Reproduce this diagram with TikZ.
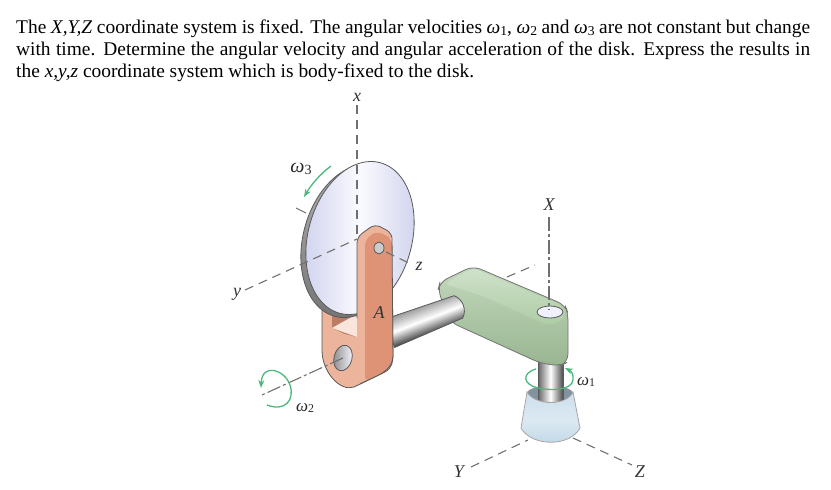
\documentclass[tikz,border=0pt]{standalone}
\usepackage{fontspec}
\setmainfont{Liberation Serif}
\usetikzlibrary{arrows, arrows.meta, shapes, positioning}

\newcommand{\omsub}[1]{\textit{ω}\raisebox{-0.25ex}{\scalebox{0.7}{#1}}}

\definecolor{armlight}{HTML}{EDB49C}
\definecolor{armdark}{HTML}{DE9377}
\definecolor{blockgreen}{HTML}{A9C9A0}
\definecolor{spin}{HTML}{4DB77E}
\definecolor{axisgray}{HTML}{707070}
\definecolor{basecol}{HTML}{B8D2E4}
\definecolor{diskcol}{HTML}{CDD1EC}

\tikzset{
  textline/.style={anchor=base west, inner sep=0pt, font=\fontsize{19.4}{21}\selectfont},
  figlabel/.style={inner sep=0pt, font=\fontsize{18}{20}\selectfont\itshape, text=black!80},
  greek/.style={inner sep=0pt, font=\fontsize{17}{19}\selectfont, text=black!85},
  axisline/.style={axisgray, line width=1.1, dashed, dash pattern=on 9pt off 6pt},
  outline/.style={draw=black!65, line width=0.8},
  spinarrow/.style={-{Stealth[length=8pt, width=6pt]}, spin, line width=1.3},
}

\begin{document}
\begin{tikzpicture}[x=1pt, y=-1pt]
    \useasboundingbox (0,0) rectangle (831,490);

    % text %
    \node[textline] (line1) at (16,33) {\makebox[794pt][s]{The \textit{X,Y,Z} coordinate system is fixed.  The angular velocities \omsub{1}, \omsub{2} and \omsub{3} are not constant but change}};
    \node[textline] (line2) at (16,55) {\makebox[794pt][s]{with time.  Determine the angular velocity and angular acceleration of the disk.  Express the results in}};
    \node[textline] (line3) at (16,77) {the \textit{x,y,z} coordinate system which is body-fixed to the disk.};

    % axis ends %
    \coordinate (xtop) at (357,105);
    \coordinate (xbot) at (357,237);
    \coordinate (ytop) at (245,290);
    \coordinate (ybot) at (357,239);
    \coordinate (zin) at (386,252);
    \coordinate (zout) at (413,265);
    \coordinate (tick1) at (296,208);
    \coordinate (tick2) at (306,213);
    \coordinate (hole) at (343,358);
    \coordinate (spinaxis) at (262,395);
    \coordinate (Xtop) at (549,217);
    \coordinate (Xbot) at (549,310);
    \coordinate (tick3) at (507,277);
    \coordinate (tick4) at (535,265);
    \coordinate (Yout) at (471,467);
    \coordinate (Yin) at (528,440);
    \coordinate (Zin) at (573,438);
    \coordinate (Zout) at (632,465);

    % base and post %
    \draw[outline, draw=black!40, fill=basecol!70!black] (550,394) ellipse [x radius=23, y radius=8];
    \shade[outline, left color=black!60, right color=black!70, middle color=white] (538,360) rectangle (563,402);
    \draw[outline, draw=black!35, top color=basecol!70!white, bottom color=basecol!90, middle color=basecol!50!white]
      (527,392) .. controls (535,406) and (567,406) .. (573,392) -- (580,428)
      .. controls (570,447) and (532,447) .. (521,428) -- cycle;

    % green block %
    \draw[outline, draw=black!55, top color=blockgreen!70!white, bottom color=blockgreen!90!black, rounded corners=8pt]
      (438,290) -- (440,282) -- (473,266) -- (565,305) -- (568,313) -- (568,362) -- (560,366) -- (540,363) -- (450,322) -- cycle;
    \shade[top color=blockgreen!55!white, bottom color=blockgreen!95, rounded corners=6pt]
      (444,284) -- (473,268) -- (563,306) -- (566,318) -- (550,326) -- (480,295) -- cycle;
    \draw[outline, fill=blue!6] (550,312) ellipse [x radius=13, y radius=6];

    % ring of the post %
    \draw[spin, line width=1.3] (536,369) .. controls (522,373) and (522,384) .. (538,388);
    \draw[spinarrow] (538,388) .. controls (552,391) and (572,390) .. (573,380) .. controls (574,374) and (571,371) .. (565,368);

    % shaft %
    \begin{scope}[transform canvas={shift={(393,332)}, rotate=21}]
      \shade[outline, top color=black!40, bottom color=black!75, middle color=white]
        (-4,-15) -- (70,-12) .. controls (77,-6) and (77,6) .. (70,12) -- (-4,15) -- cycle;
    \end{scope}

    % arm, the part behind the disk %
    \draw[outline, fill=armlight] (322,300) -- (322,350) .. controls (322,372) and (340,392) .. (354,387)
      -- (385,372) .. controls (392,368) and (393,362) .. (393,355) -- (392,240) -- (357,240) -- cycle;
    \fill[armdark!85!black] (332,305) -- (357,305) -- (357,337) -- (345,334) -- (332,328) -- cycle;
    \fill[armlight!35!white] (332,328) -- (357,314) -- (357,337) -- cycle;

    % disk %
    \draw[outline, top color=black!30, bottom color=black!55] (355,241) ellipse [x radius=52, y radius=78, rotate=-15];
    \draw[outline, left color=diskcol, right color=diskcol, middle color=blue!2] (360,238) ellipse [x radius=52, y radius=78, rotate=-15];

    % disk axes %
    \draw[axisline] (xtop) -- (xbot);
    \draw[axisline] (ytop) -- (ybot);
    \draw[axisgray, line width=1.1] (tick1) -- (tick2);
    \draw[spinarrow] (331,166) .. controls (320,174) and (311,185) .. (304,197);

    % arm, the front part %
    \fill[armlight, rounded corners=6pt] (357,340) -- (357,237) -- (375,224) -- (392,233) -- (392,240) -- (365,240) -- (365,340) -- cycle;
    \fill[armdark, rounded corners=6pt] (365,382) -- (365,240) -- (376,231) -- (392,238) -- (393,360) -- (385,372) -- cycle;
    \draw[outline, rounded corners=6pt] (357,318) -- (357,237) -- (375,224) -- (392,233) -- (393,362) -- (385,372) -- (360,384);
    \draw[outline, fill=black!20] (379,248) ellipse [x radius=5, y radius=6];
    \draw[outline, left color=black!45, right color=blue!3] (343,358) ellipse [x radius=9, y radius=13, rotate=-15];

    \draw[axisline] (zin) -- (zout);
    \draw[axisline, dash pattern=on 14pt off 3pt on 3pt off 3pt] (hole) -- (spinaxis);
    \draw[spinarrow] (267,405) .. controls (285,412) and (295,400) .. (290,385) .. controls (285,370) and (262,362) .. (261,388);

    % frame axes %
    \draw[axisline, dash pattern=on 14pt off 3pt on 3pt off 3pt] (Xtop) -- (Xbot);
    \draw[axisline] (tick3) -- (tick4);
    \draw[axisline] (Yout) -- (Yin);
    \draw[axisline] (Zin) -- (Zout);

    % labels %
    \node[figlabel] (xlab) at (357,97) {x};
    \node[figlabel] (ylab) at (237,294) {y};
    \node[figlabel] (zlab) at (419,266) {z};
    \node[figlabel] (alab) at (379,313) {A};
    \node[figlabel] (Xlab) at (549,205) {X};
    \node[figlabel] (Ylab) at (459,472) {Y};
    \node[figlabel] (Zlab) at (640,472) {Z};
    \node[greek, font=\fontsize{20}{22}\selectfont] (w3) at (301,169) {\omsub{3}};
    \node[greek] (w2) at (305,408) {\omsub{2}};
    \node[greek] (w1) at (586,382) {\omsub{1}};
\end{tikzpicture}
\end{document}
